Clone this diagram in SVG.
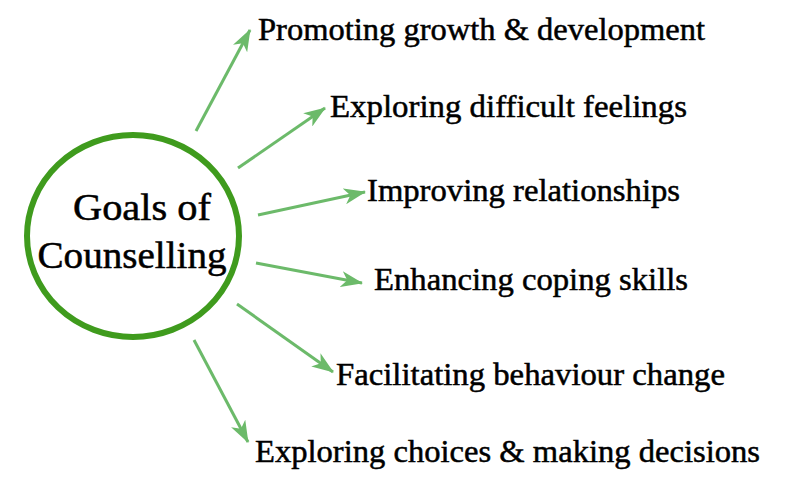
<svg xmlns="http://www.w3.org/2000/svg" width="800" height="498" viewBox="0 0 800 498">
<defs>
<marker id="ah" markerWidth="22" markerHeight="16" refX="21" refY="8" orient="auto" markerUnits="userSpaceOnUse" viewBox="0 0 22 16"><path d="M0,0 L22,8 L0,16 L6,8 Z" fill="#6cba6a"/></marker>
</defs>
<style>
.c{stroke:#6cba6a;stroke-width:3;fill:none;marker-end:url(#ah)}
text{font-family:"Liberation Serif","Times New Roman",serif;fill:#000;stroke:#000;stroke-width:0.5}
.l{font-size:31px}
.t{font-size:37px}
</style>
<rect width="800" height="498" fill="#fff"/>
<g id="center">
<ellipse cx="133" cy="236" rx="106" ry="101" fill="none" stroke="#3f9b1d" stroke-width="6"/>
<text class="t" x="142" y="220" text-anchor="middle" textLength="138" lengthAdjust="spacingAndGlyphs">Goals of</text>
<text class="t" x="132" y="268" text-anchor="middle" textLength="189" lengthAdjust="spacingAndGlyphs">Counselling</text>
</g>
<g id="connectors">
<line class="c" x1="196" y1="131" x2="250" y2="30"/>
<line class="c" x1="238" y1="168" x2="325" y2="108"/>
<line class="c" x1="258" y1="215" x2="365" y2="192"/>
<line class="c" x1="256" y1="263" x2="362" y2="283"/>
<line class="c" x1="237" y1="304" x2="333" y2="372"/>
<line class="c" x1="194" y1="340" x2="248" y2="442"/>
</g>
<g id="n1"><text class="l" x="258" y="40" textLength="447" lengthAdjust="spacingAndGlyphs">Promoting growth &amp; development</text></g>
<g id="n2"><text class="l" x="330" y="117" textLength="357" lengthAdjust="spacingAndGlyphs">Exploring difficult feelings</text></g>
<g id="n3"><text class="l" x="367" y="201" textLength="313" lengthAdjust="spacingAndGlyphs">Improving relationships</text></g>
<g id="n4"><text class="l" x="374" y="290" textLength="314" lengthAdjust="spacingAndGlyphs">Enhancing coping skills</text></g>
<g id="n5"><text class="l" x="336" y="385" textLength="389" lengthAdjust="spacingAndGlyphs">Facilitating behaviour change</text></g>
<g id="n6"><text class="l" x="255" y="462" textLength="505" lengthAdjust="spacingAndGlyphs">Exploring choices &amp; making decisions</text></g>
</svg>
